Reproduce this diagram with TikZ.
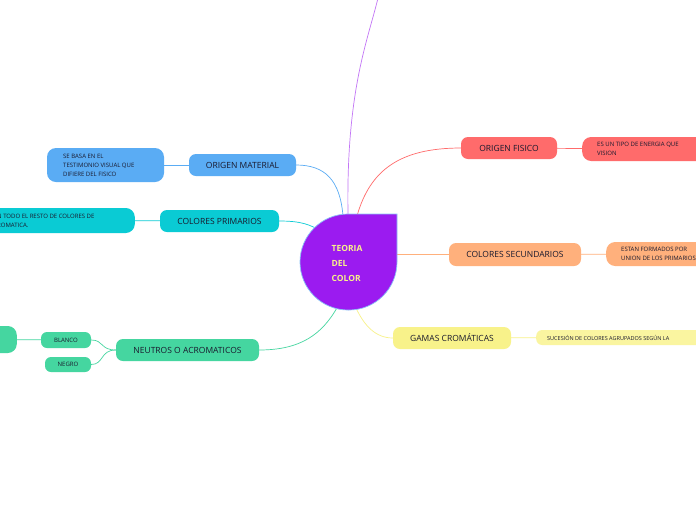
\documentclass[tikz,border=0pt]{standalone}
\usepackage{fontspec}
\setmainfont{Open Sans}
\definecolor{cblue}{HTML}{5AACF4}
\definecolor{ccyan}{HTML}{0ACBD4}
\definecolor{cgreen}{HTML}{45D6A0}
\definecolor{cred}{HTML}{FF6B6B}
\definecolor{corange}{HTML}{FFB07C}
\definecolor{cyel}{HTML}{F8F28A}
\definecolor{cyel2}{HTML}{FAF5A0}
\definecolor{cpurple}{HTML}{9B1BF0}
\definecolor{tdark}{HTML}{1A1A2E}
\tikzset{
 main/.style={rounded corners=7pt, minimum height=22pt, font=\fontsize{8.5}{9}\selectfont, text=tdark, inner xsep=0pt},
 sub/.style={rounded corners=9pt, font=\fontsize{6}{9}\selectfont, text=tdark, align=left, inner xsep=0pt},
 tiny/.style={rounded corners=6pt, font=\fontsize{6}{7}\selectfont, text=tdark, inner xsep=0pt},
 subtext/.style={font=\fontsize{6}{9}\selectfont, text=tdark, align=left, anchor=west, inner sep=0pt},
 link/.style={line width=0.7pt}
}
\begin{document}
\begin{tikzpicture}[x=1pt,y=-1pt]
\useasboundingbox (0,0) rectangle (696,520);
\clip (0,0) rectangle (696,520);
\fill[white] (0,0) rectangle (696,520);
% connectors
\coordinate (top) at (378,-2);
\draw[link, cpurple!60] (348,214) .. controls (346,90) and (368,40) .. (top);
\draw[link, cblue] (343,216) .. controls (340,180) and (325,165) .. (296,165);
\draw[link, ccyan] (322,232) .. controls (310,224) and (300,221) .. (279,221);
\draw[link, cgreen] (338,306) .. controls (322,335) and (300,350) .. (259,350);
\draw[link, cred] (357,216) .. controls (370,170) and (400,148) .. (461,148);
\draw[link, corange] (397,254) -- (449,254);
\draw[link, cyel] (356,308) .. controls (364,325) and (375,338) .. (393,338);
% center
\filldraw[fill=cpurple, draw=cblue!70, line width=0.7pt] (348,214) -- (397,214) [rounded corners=48pt] -- (397,310) -- (300,310) -- (300,214) [sharp corners] -- (348,214) -- cycle;
\node[font=\fontsize{8.5}{15}\selectfont\bfseries, text=cyel, align=left] (c) at (347,263) {TEORIA\\DEL\\COLOR};
% left
\node[main, fill=cblue, minimum width=107pt] (om) at (242.5,165) {ORIGEN MATERIAL};
\node[sub, fill=cblue, minimum width=117pt, minimum height=34pt] (oms) at (105.5,165) {};
\node[subtext] (omt) at (63,165) {SE BASA EN EL\\TESTIMONIO VISUAL QUE\\DIFIERE DEL FISICO};
\draw[link, cblue] (om) -- (oms);
\node[main, fill=ccyan, minimum width=119pt] (cp) at (219.5,221) {COLORES PRIMARIOS};
\node[sub, fill=ccyan, minimum width=160pt, minimum height=25pt, anchor=east] (cps) at (135,220.5) {};
\node[subtext] (cpt) at (-3,220.5) {N TODO EL RESTO DE COLORES DE\\ROMATICA.};
\draw[link, ccyan] (cp) -- (cps);
\node[main, fill=cgreen, minimum width=143pt] (na) at (187.5,350) {NEUTROS O ACROMATICOS};
\node[tiny, fill=cgreen, minimum width=50pt, minimum height=16pt] (bl) at (66,340) {BLANCO};
\node[tiny, fill=cgreen, minimum width=46pt, minimum height=15pt] (ng) at (68,364.5) {NEGRO};
\node[fill=cgreen, rounded corners=9pt, minimum width=40pt, minimum height=27pt, anchor=east] (bls) at (17,339.5) {};
\draw[link, cgreen] (na.west) .. controls (100,350) and (104,340) .. (bl.east);
\draw[link, cgreen] (na.west) .. controls (100,350) and (104,364.5) .. (ng.east);
\draw[link, cgreen] (bl) -- (bls);
% right
\node[main, fill=cred, minimum width=96pt] (of) at (509,148) {ORIGEN FISICO};
\node[sub, fill=cred, minimum width=140pt, minimum height=24pt, anchor=west] (ofs) at (582,149) {};
\node[subtext] (oft) at (597,149) {ES UN TIPO DE ENERGIA QUE\\VISION};
\draw[link, cred] (of) -- (ofs);
\node[main, fill=corange, minimum width=132pt, minimum height=23pt] (cs) at (515,254.5) {COLORES SECUNDARIOS};
\node[sub, fill=corange, minimum width=120pt, minimum height=24pt, anchor=west] (css) at (606,254) {};
\node[subtext] (cst) at (621,254) {ESTAN FORMADOS POR\\UNION DE LOS PRIMARIOS};
\draw[link, corange] (cs) -- (css);
\node[main, fill=cyel, minimum width=118pt] (gc) at (452,338) {GAMAS CROMÁTICAS};
\node[tiny, fill=cyel2, minimum width=200pt, minimum height=15pt, anchor=west] (gcs) at (536,337.5) {};
\node[subtext, font=\fontsize{5.5}{7}\selectfont] (gct) at (547,337.5) {SUCESIÓN DE COLORES AGRUPADOS SEGÚN LA};
\draw[link, cyel] (gc) -- (gcs);
\end{tikzpicture}
\end{document}
